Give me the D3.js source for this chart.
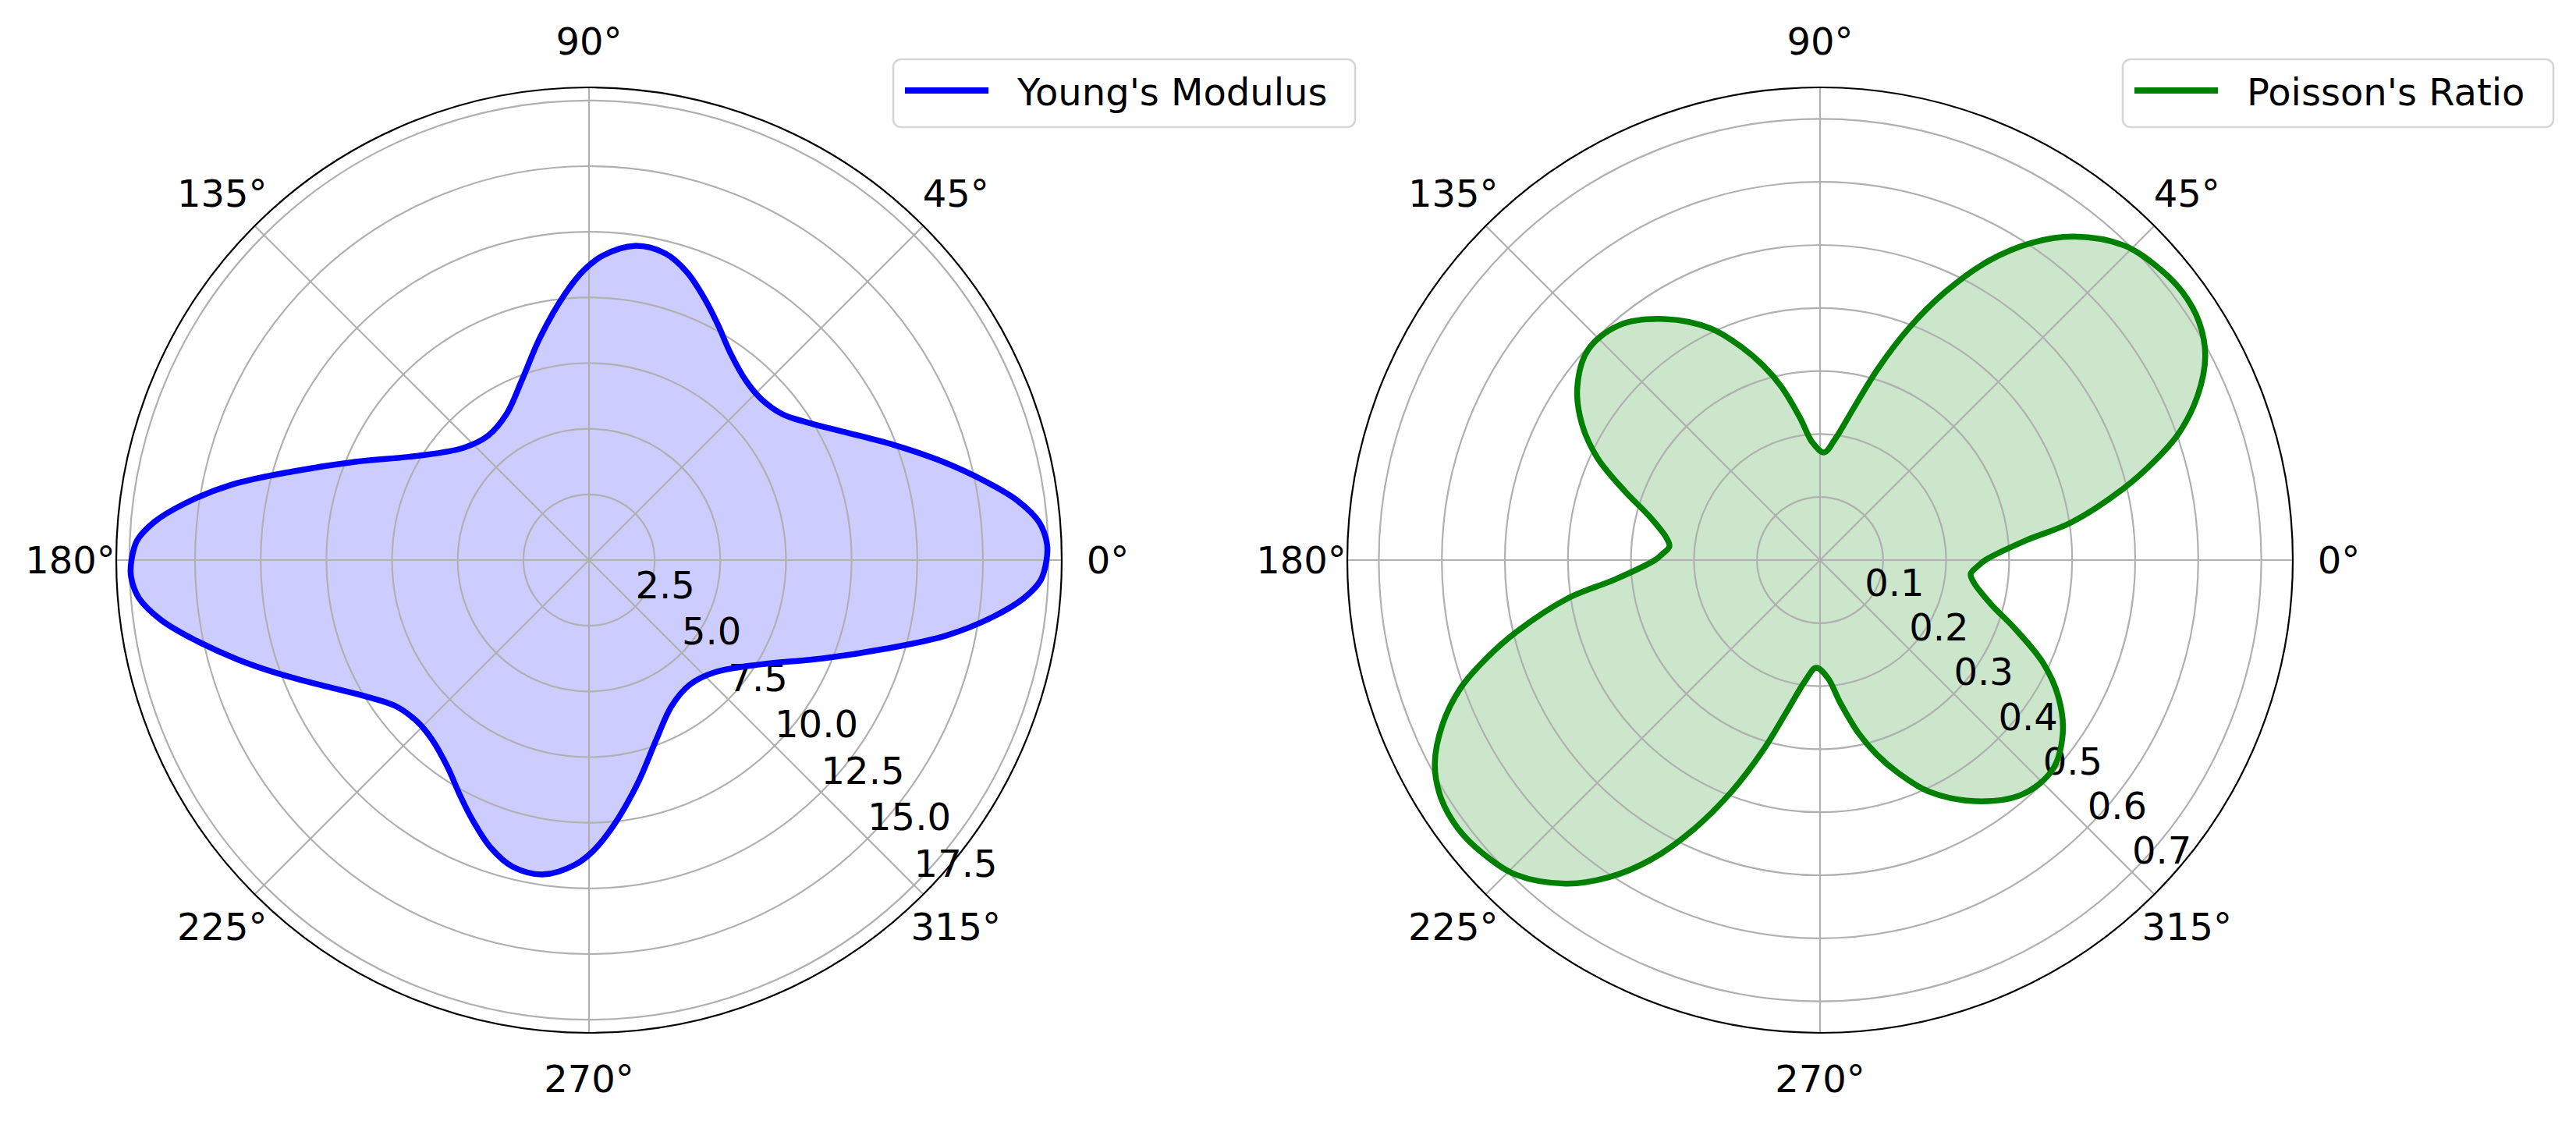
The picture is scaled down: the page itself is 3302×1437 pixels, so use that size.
<!DOCTYPE html>
<html>
<head>
<meta charset="utf-8">
<script src="https://cdn.jsdelivr.net/npm/d3@7"></script>
<style>
  html, body { margin: 0; padding: 0; background: #ffffff; }
  svg { display: block; }
  text { font-family: "DejaVu Sans", sans-serif; fill: #000; }
</style>
</head>
<body>
<svg id="chart" width="3302" height="1437"></svg>
<script>
// ---------------- DATA ----------------
const thetaTicks = [0, 45, 90, 135, 180, 225, 270, 315];
const thetaTickLabels = ["0°", "45°", "90°", "135°", "180°", "225°", "270°", "315°"];

const youngTicks = [2.5, 5.0, 7.5, 10.0, 12.5, 15.0, 17.5];
const youngTickLabels = ["2.5", "5.0", "7.5", "10.0", "12.5", "15.0", "17.5"];
const youngMax = 18.0;

const poissonTicks = [0.1, 0.2, 0.3, 0.4, 0.5, 0.6, 0.7];
const poissonTickLabels = ["0.1", "0.2", "0.3", "0.4", "0.5", "0.6", "0.7"];
const poissonMax = 0.75;

// Young's modulus: angle (deg) and value
const youngAngles = [
  0, 2, 4.8, 7.9, 11.1, 15.8, 20.7, 26.2, 31.7, 37, 43.1, 48.9, 55.8, 61.3, 65.9, 71.2, 76, 81.8,
  87.3, 90.8, 95.1, 102.3, 110.4, 119.4, 129, 138.3, 148.8, 157.2, 163.3, 168.1, 172, 175, 177.5,
  180, 182, 184.8, 187.9, 191.1, 195.8, 200.7, 206.2, 211.7, 217, 223.1, 228.9, 235.8, 241.3, 245.9, 251.2, 256, 261.8,
  267.3, 270.8, 275.1, 282.3, 290.4, 299.4, 309, 318.3, 328.8, 337.2, 343.3, 348.1, 352, 355, 357.5];
const youngValues = [
  17.42, 17.45, 17.2, 16.47, 15.43, 13.9, 12.41, 10.98, 9.91, 9.23, 8.98, 9.08, 9.56, 10.22, 10.85, 11.58, 12.03, 12.09,
  11.62, 11.08, 10.19, 8.7, 7.32, 6.39, 6.1, 6.42, 7.66, 9.66, 11.76, 13.91, 15.53, 16.62, 17.22,
  17.42, 17.45, 17.2, 16.47, 15.43, 13.9, 12.41, 10.98, 9.91, 9.23, 8.98, 9.08, 9.56, 10.22, 10.85, 11.58, 12.03, 12.09,
  11.62, 11.08, 10.19, 8.7, 7.32, 6.39, 6.1, 6.42, 7.66, 9.66, 11.76, 13.91, 15.53, 16.62, 17.22];

// Poisson's ratio: angle (deg) and value
const poissonAngles = [
  0, 5.4, 8.55, 13.3, 16.5, 19.5, 23.5, 27.9, 32.1, 36.5, 41, 46, 51.8, 56.3, 60.6, 64.95, 69.1, 73.2, 77.6,
  83, 87.9, 93.7, 98, 102.5, 106.3, 110.2, 115.2, 122.8, 130.6, 137.9, 144.5, 150.2, 155.3, 160.6, 165.6, 171.7, 174.8, 178,
  180, 185.4, 188.55, 193.3, 196.5, 199.5, 203.5, 207.9, 212.1, 216.5, 221, 226, 231.8, 236.3, 240.6, 244.95, 249.1, 253.2, 257.6,
  263, 267.9, 273.7, 278, 282.5, 286.3, 290.2, 295.2, 302.8, 310.6, 317.9, 324.5, 330.2, 335.3, 340.6, 345.6, 351.7, 354.8, 358];
const poissonValues = [
  0.262, 0.327, 0.4035, 0.495, 0.5536, 0.604, 0.653, 0.6915, 0.710, 0.715, 0.709, 0.694, 0.653, 0.605, 0.545, 0.470, 0.393, 0.317, 0.246,
  0.193, 0.171, 0.187, 0.228, 0.281, 0.3217, 0.360, 0.406, 0.455, 0.4905, 0.4966, 0.473, 0.4355, 0.389, 0.328, 0.2796, 0.2465, 0.240, 0.2514,
  0.262, 0.327, 0.4035, 0.495, 0.5536, 0.604, 0.653, 0.6915, 0.710, 0.715, 0.709, 0.694, 0.653, 0.605, 0.545, 0.470, 0.393, 0.317, 0.246,
  0.193, 0.171, 0.187, 0.228, 0.281, 0.3217, 0.360, 0.406, 0.455, 0.4905, 0.4966, 0.473, 0.4355, 0.389, 0.328, 0.2796, 0.2465, 0.240, 0.2514];

// ---------------- DRAW ----------------
const svg = d3.select("#chart");
svg.append("rect").attr("width", 3302).attr("height", 1437).attr("fill", "#ffffff");

const FONT = 48;

function drawPolar(opts) {
  const { cx, cy, R, rmax, angles, values, ticks, tickLabels, stroke, fill, label, legend } = opts;
  const g = svg.append("g").attr("transform", `translate(${cx},${cy})`);
  const r = d3.scaleLinear().domain([0, rmax]).range([0, R]);
  const toRad = d => d * Math.PI / 180;

  const pts = angles.map((a, i) => ({ a, v: values[i] }));
  const line = d3.lineRadial()
    .angle(d => Math.PI / 2 - toRad(d.a))
    .radius(d => r(d.v))
    .curve(d3.curveCatmullRomClosed.alpha(0.5));

  // fill
  g.append("path").attr("d", line(pts)).attr("fill", fill).attr("stroke", "none");

  // grid circles
  g.selectAll("circle.grid").data(ticks).enter().append("circle")
    .attr("r", d => r(d)).attr("fill", "none")
    .attr("stroke", "#b0b0b0").attr("stroke-width", 2.2);
  // theta grid lines
  g.selectAll("line.tg").data(thetaTicks).enter().append("line")
    .attr("x1", 0).attr("y1", 0)
    .attr("x2", d => R * Math.cos(toRad(d)))
    .attr("y2", d => -R * Math.sin(toRad(d)))
    .attr("stroke", "#b0b0b0").attr("stroke-width", 2.2);

  // radial tick labels at 315 deg
  const la = toRad(-45);
  g.selectAll("text.rl").data(ticks).enter().append("text")
    .attr("x", d => r(d) * Math.cos(la))
    .attr("y", d => -r(d) * Math.sin(la) - 11)
    .attr("text-anchor", "start")
    .attr("font-size", FONT)
    .text((d, i) => tickLabels[i]);

  // curve
  g.append("path").attr("d", line(pts)).attr("fill", "none")
    .attr("stroke", stroke).attr("stroke-width", 7.5).attr("stroke-linejoin", "round");

  // outer spine
  g.append("circle").attr("r", R).attr("fill", "none").attr("stroke", "#000").attr("stroke-width", 2.2);

  // theta labels
  const LR = R + 59;
  g.selectAll("text.tl").data(thetaTicks).enter().append("text")
    .attr("x", d => LR * Math.cos(toRad(d)))
    .attr("y", d => -LR * Math.sin(toRad(d)))
    .attr("text-anchor", "middle")
    .attr("dominant-baseline", "central")
    .attr("font-size", FONT)
    .text((d, i) => thetaTickLabels[i]);

  // legend
  const lg = svg.append("g");
  lg.append("rect").attr("x", legend.x).attr("y", legend.y)
    .attr("width", legend.w).attr("height", legend.h)
    .attr("rx", 10).attr("ry", 10)
    .attr("fill", "#ffffff").attr("fill-opacity", 0.8)
    .attr("stroke", "#d6d6d6").attr("stroke-width", 2.6);
  lg.append("line").attr("x1", legend.x + 15).attr("x2", legend.x + 122)
    .attr("y1", legend.y + 40).attr("y2", legend.y + 40)
    .attr("stroke", stroke).attr("stroke-width", 8);
  lg.append("text").attr("x", legend.x + 159).attr("y", legend.y + 59)
    .attr("font-size", FONT).text(label);
}

drawPolar({
  cx: 755, cy: 718, R: 606, rmax: youngMax,
  angles: youngAngles, values: youngValues,
  ticks: youngTicks, tickLabels: youngTickLabels,
  stroke: "#0000ff", fill: "#ccccff", label: "Young's Modulus",
  legend: { x: 1145, y: 76, w: 592, h: 87 }
});

drawPolar({
  cx: 2333, cy: 718, R: 606, rmax: poissonMax,
  angles: poissonAngles, values: poissonValues,
  ticks: poissonTicks, tickLabels: poissonTickLabels,
  stroke: "#008000", fill: "#cce6cc", label: "Poisson's Ratio",
  legend: { x: 2721, y: 76, w: 552, h: 87 }
});
</script>
</body>
</html>
